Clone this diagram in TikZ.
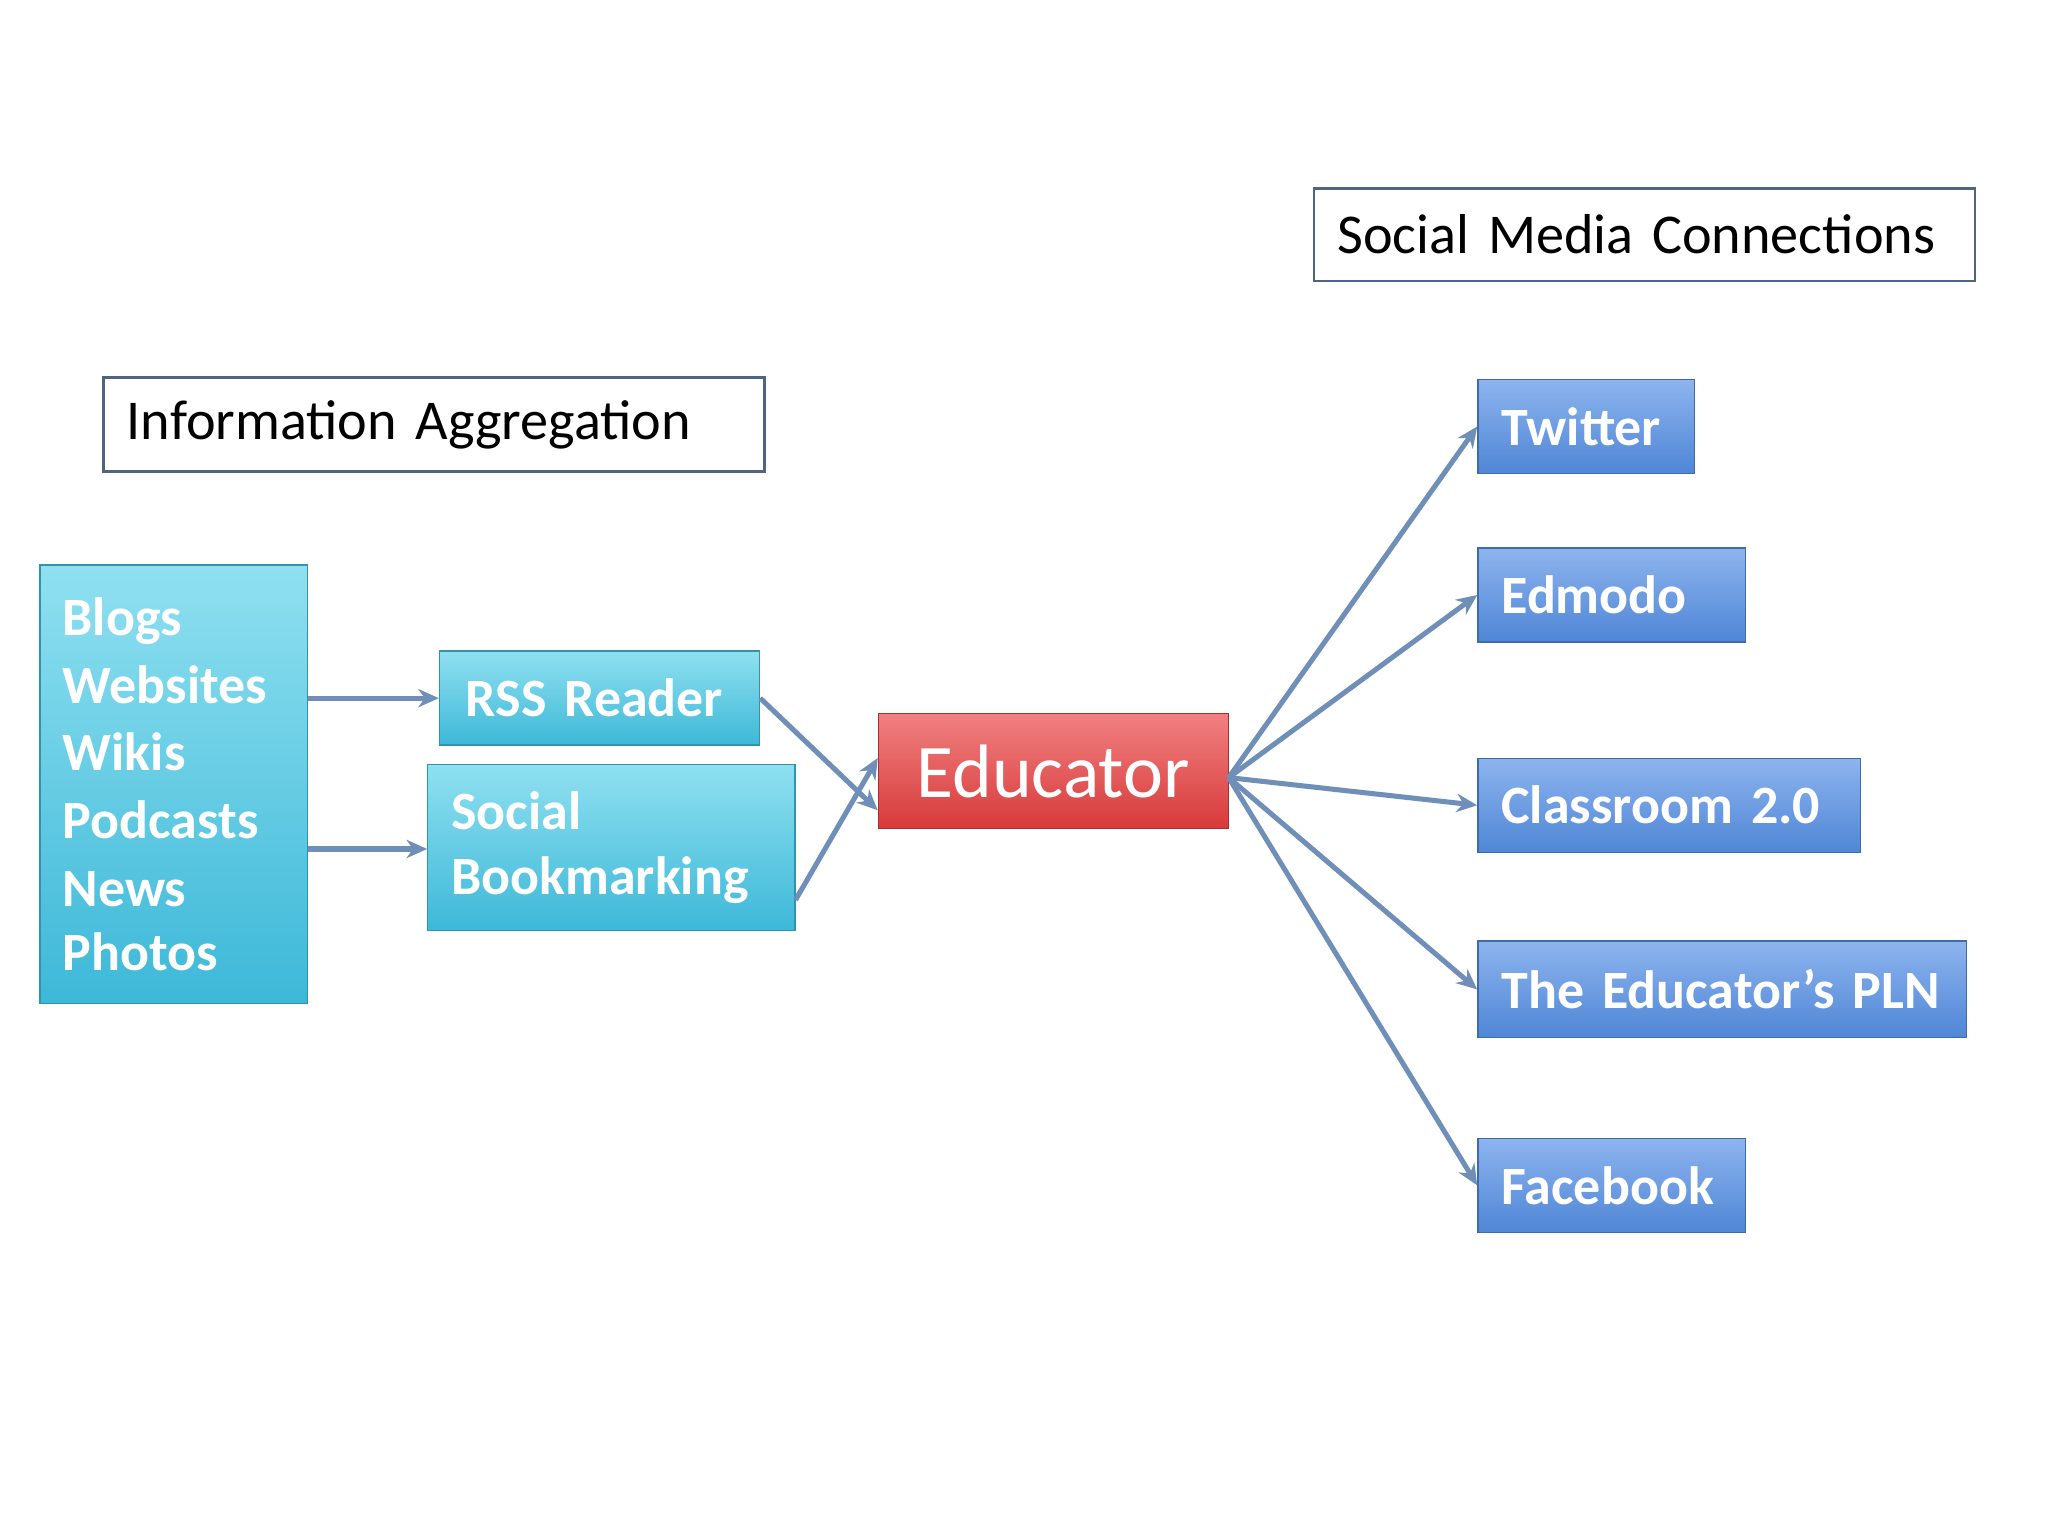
\documentclass[tikz,border=0pt]{standalone}
\usepackage{fontspec}
\setmainfont{Carlito}
\usetikzlibrary{arrows.meta}
\definecolor{cyanA}{HTML}{8FE0F0}
\definecolor{cyanB}{HTML}{3DB8D8}
\definecolor{blueA}{HTML}{8DB4EE}
\definecolor{blueB}{HTML}{4F86D6}
\definecolor{redA}{HTML}{F08080}
\definecolor{redB}{HTML}{D83A3A}
\definecolor{arr}{HTML}{6F8FB8}
\begin{document}
\begin{tikzpicture}[x=0.02cm,y=-0.02cm,
  lbl/.style={draw=arr!70!black,line width=1.2pt,fill=white,anchor=north west,font=\fontsize{24.5}{28}\selectfont,text=black,inner xsep=0.36cm},
  cy/.style={draw=cyanB!80!black,line width=0.6pt,top color=cyanA,bottom color=cyanB,text=white,font=\bfseries\fontsize{23.5}{28}\selectfont,align=left,anchor=north west,inner sep=0pt},
  bl/.style={draw=blueB!80!black,line width=0.6pt,top color=blueA,bottom color=blueB,text=white,font=\bfseries\fontsize{23.5}{28}\selectfont,anchor=north west,inner sep=0pt},
  con/.style={draw=arr,line width=2.2pt,-{Stealth[length=9pt,width=8pt]}}]
\useasboundingbox[fill=white] (0,0) rectangle (1568,1176);
\node[lbl,minimum width=499*0.02cm,minimum height=72*0.02cm,text width=470*0.02cm,align=left] (ia) at (78,288) {Information Aggregation};
\node[lbl,minimum width=499*0.02cm,minimum height=71*0.02cm,text width=470*0.02cm,align=left] (sm) at (1005,143) {Social Media Connections};
\node[cy,minimum width=205*0.02cm,minimum height=336*0.02cm,text width=170*0.02cm] (src) at (30,432) {\fontsize{23.5}{29.5}\selectfont Blogs\\Websites\\Wikis\\Podcasts\\News\\Photos};
\node[cy,minimum width=245*0.02cm,minimum height=72*0.02cm,text width=205*0.02cm] (rss) at (336,498) {RSS Reader};
\node[cy,minimum width=281*0.02cm,minimum height=127*0.02cm,text width=245*0.02cm] (sb) at (327,585) {\fontsize{23.5}{30}\selectfont Social\\Bookmarking};
\node[draw=redB!80!black,top color=redA,bottom color=redB,text=white,font=\fontsize{33}{36}\selectfont,minimum width=268*0.02cm,minimum height=88*0.02cm,anchor=north west,inner sep=0pt] (edu) at (672,546) {Educator};
\node[bl,minimum width=166*0.02cm,minimum height=72*0.02cm,text width=130*0.02cm] (tw) at (1131,290) {Twitter};
\node[bl,minimum width=205*0.02cm,minimum height=72*0.02cm,text width=169*0.02cm] (ed) at (1131,419) {Edmodo};
\node[bl,minimum width=293*0.02cm,minimum height=72*0.02cm,text width=257*0.02cm] (cl) at (1131,580) {Classroom 2.0};
\node[bl,minimum width=374*0.02cm,minimum height=74*0.02cm,text width=338*0.02cm] (pln) at (1131,720) {The Educator's PLN};
\node[bl,minimum width=205*0.02cm,minimum height=72*0.02cm,text width=169*0.02cm] (fb) at (1131,871) {Facebook};
\draw[con] (src.east|-rss.west) -- (rss.west);
\draw[con] (src.east|-0,650) -- (sb.west|-0,650);
\draw[con] (rss.east) -- ([yshift=-0.6cm]edu.west);
\draw[con] ([yshift=-0.8cm]sb.east) -- ([yshift=0.2cm]edu.west);
\coordinate (o) at ([yshift=-0.1cm]edu.east);
\foreach \t in {tw,ed,cl,pln,fb} \draw[con] (o) -- (\t.west);
\end{tikzpicture}
\end{document}
